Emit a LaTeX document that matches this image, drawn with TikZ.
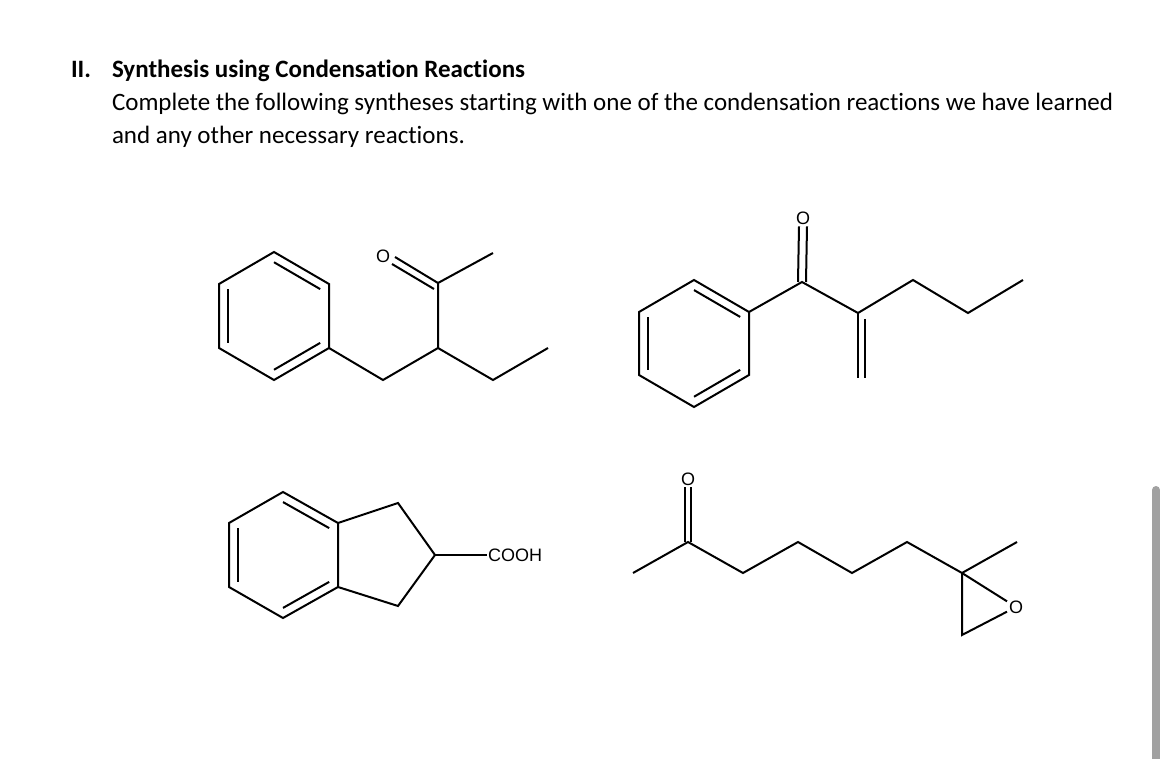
\documentclass[tikz,border=0pt]{standalone}
\usepackage{fontspec}
\setmainfont{Carlito}[Ligatures=NoCommon]
\newfontfamily\arial{Liberation Sans}
\usetikzlibrary{calc}
\begin{document}
\begin{tikzpicture}[x=1pt,y=-1pt,line width=2pt,
  atom/.style={font=\arial\fontsize{18}{18}\selectfont,inner sep=1pt},
  txt/.style={font=\fontsize{25}{26}\selectfont,anchor=base west,inner sep=0pt}]
\useasboundingbox (0,0) rectangle (1170,759);
% texts
\node[txt,font=\bfseries\fontsize{25}{26}\selectfont] (t0) at (70,78) {II.};
\node[txt,font=\bfseries\fontsize{25}{26}\selectfont] (t1) at (111,78) {Synthesis using Condensation Reactions};
\node[txt] (t2) at (111,111) {Complete the following syntheses starting with one of the condensation reactions we have learned};
\node[txt] (t3) at (111,144) {and any other necessary reactions.};
% scrollbar
\draw[line width=8pt,color=black!37,line cap=round] (1156,490) -- (1156,765);

% ---------- molecule 1
\coordinate (ac) at (274,316);
\coordinate (a1) at (274,252); \coordinate (a2) at (329,284); \coordinate (a3) at (329,348);
\coordinate (a4) at (274,380); \coordinate (a5) at (219,348); \coordinate (a6) at (219,284);
\draw (a1)--(a2)--(a3)--(a4)--(a5)--(a6)--cycle;
\draw ($(ac)!0.84!(a1)$)--($(ac)!0.84!(a2)$);
\draw ($(ac)!0.84!(a5)$)--($(ac)!0.84!(a6)$);
\draw ($(ac)!0.84!(a3)$)--($(ac)!0.84!(a4)$);
\coordinate (a7) at (383,380); \coordinate (a8) at (438,348);
\coordinate (a9) at (438,283); \coordinate (a10) at (493,253);
\coordinate (a11) at (493,380); \coordinate (a12) at (548,348);
\node[atom] (ao) at (383,256) {O};
\coordinate (ao1) at (395,257); \coordinate (ao2) at (392,264);
\coordinate (a9b) at (434,289);
\draw (a3)--(a7)--(a8)--(a9)--(a10);
\draw (a8)--(a11)--(a12);
\draw (a9)--(ao1);
\draw (a9b)--(ao2);

% ---------- molecule 2
\coordinate (bc) at (694,343);
\coordinate (b1) at (694,280); \coordinate (b2) at (749,312); \coordinate (b3) at (749,375);
\coordinate (b4) at (694,407); \coordinate (b5) at (639,375); \coordinate (b6) at (639,312);
\draw (b1)--(b2)--(b3)--(b4)--(b5)--(b6)--cycle;
\draw ($(bc)!0.84!(b1)$)--($(bc)!0.84!(b2)$);
\draw ($(bc)!0.84!(b5)$)--($(bc)!0.84!(b6)$);
\draw ($(bc)!0.84!(b3)$)--($(bc)!0.84!(b4)$);
\coordinate (b7) at (802,282); \coordinate (b8) at (858,313);
\coordinate (b9) at (913,280); \coordinate (b10) at (968,313); \coordinate (b11) at (1023,280);
\coordinate (b12) at (858,378);
\node[atom] (bo) at (803,218) {O};
\draw (b2)--(b7)--(b8)--(b9)--(b10)--(b11);
\draw ($(b7)+(-4,0)$)--($(bo.south)+(-4,0)$);
\draw ($(b7)+(4,0)$)--($(bo.south)+(4,0)$);
\draw (b8)--(b12);
\draw ($(b8)+(7,6)$)--($(b12)+(7,0)$);

% ---------- molecule 3
\coordinate (cc) at (283,555);
\coordinate (c1) at (283,492); \coordinate (c2) at (338,523); \coordinate (c3) at (338,587);
\coordinate (c4) at (283,618); \coordinate (c5) at (229,587); \coordinate (c6) at (229,523);
\draw (c1)--(c2)--(c3)--(c4)--(c5)--(c6)--cycle;
\draw ($(cc)!0.84!(c1)$)--($(cc)!0.84!(c2)$);
\draw ($(cc)!0.84!(c5)$)--($(cc)!0.84!(c6)$);
\draw ($(cc)!0.84!(c3)$)--($(cc)!0.84!(c4)$);
\coordinate (c7) at (398,503); \coordinate (c8) at (435,555); \coordinate (c9) at (398,606);
\node[atom,anchor=west,inner sep=0pt] (cooh) at (487,555) {COOH};
\draw (c2)--(c7)--(c8)--(c9)--(c3);
\draw (c8)--(cooh.west);

% ---------- molecule 4
\coordinate (d1) at (633,573); \coordinate (d2) at (688,542); \coordinate (d3) at (743,573);
\coordinate (d4) at (798,542); \coordinate (d5) at (852,573); \coordinate (d6) at (907,542);
\coordinate (d7) at (962,573); \coordinate (d8) at (1017,542); \coordinate (d9) at (962,635);
\node[atom] (do) at (688,479) {O};
\node[atom] (de) at (1016,607) {O};
\draw (d1)--(d2)--(d3)--(d4)--(d5)--(d6)--(d7)--(d8);
\draw ($(d2)+(-3,0)$)--($(do.south)+(-3,0)$);
\draw ($(d2)+(3,0)$)--($(do.south)+(3,0)$);
\draw (d7)--(d9)--(de);
\draw (d7)--(de);
\end{tikzpicture}
\end{document}
